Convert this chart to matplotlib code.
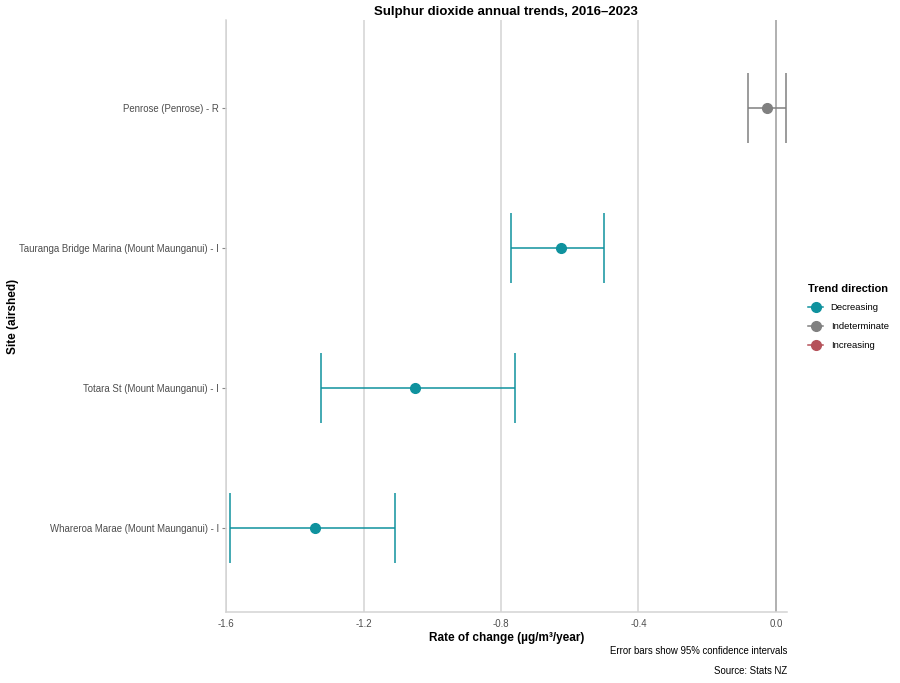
import matplotlib.pyplot as plt
from matplotlib.lines import Line2D

plt.rcParams['font.family'] = ['Liberation Sans', 'DejaVu Sans']

sites = ["Penrose (Penrose) - R",
         "Tauranga Bridge Marina (Mount Maunganui) - I",
         "Totara St (Mount Maunganui) - I",
         "Whareroa Marae (Mount Maunganui) - I"]
trend = [-0.026, -0.625, -1.050, -1.341]
lower = [-0.081, -0.771, -1.324, -1.588]
upper = [0.029, -0.500, -0.759, -1.108]
direction = ["Indeterminate", "Decreasing", "Decreasing", "Decreasing"]

colours = {"Decreasing": "#0F929E", "Indeterminate": "#808080", "Increasing": "#B5525A"}
xticks = [-1.6, -1.2, -0.8, -0.4, 0.0]

fig = plt.figure(figsize=(9, 6.83), dpi=100)
ax = fig.add_axes([226 / 900, 1 - 612 / 683, (787 - 226) / 900, (612 - 20) / 683])

for x in xticks:
    ax.axvline(x, color="#D3D3D3", lw=1.1, zorder=0)
ax.axvline(0, color="#A6A6A6", lw=1.1, zorder=1)

ypos = list(range(len(sites), 0, -1))
for y, m, lo, hi, d in zip(ypos, trend, lower, upper, direction):
    c = colours[d]
    ax.errorbar(m, y, xerr=[[m - lo], [hi - m]], fmt="none", ecolor=c,
                elinewidth=1.1, capsize=25, capthick=1.1, zorder=2)
    ax.plot(m, y, "o", color=c, ms=7, zorder=3)

ax.set_xlim(-1.6, 0.032)
ax.set_ylim(0.4, 4.63)
ax.set_xticks(xticks)
ax.set_xticklabels(["-1.6", "-1.2", "-0.8", "-0.4", "0.0"])
ax.set_yticks(ypos)
ax.set_yticklabels(sites)
ax.tick_params(axis="both", labelsize=6.9, labelcolor="#4D4D4D", color="#888888",
               length=3, width=0.8, pad=2)
ax.tick_params(axis="x", length=0, pad=5)
for s in ["top", "right"]:
    ax.spines[s].set_visible(False)
for s in ["left", "bottom"]:
    ax.spines[s].set_color("#D3D3D3")
    ax.spines[s].set_linewidth(1.1)

ax.set_xlabel("Rate of change (µg/m³/year)", fontsize=8.5, fontweight="bold", labelpad=2)
fig.text(13 / 900, 1 - 316 / 683, "Site (airshed)", rotation=90, ha="center",
         va="center", fontsize=8.5, fontweight="bold")
fig.text(506 / 900, 1 - 12 / 683, "Sulphur dioxide annual trends, 2016–2023",
         ha="center", va="center", fontsize=9.5, fontweight="bold")

handles = [Line2D([0], [0], color=colours[k], marker="o", ms=7, lw=1.1, label=k)
           for k in ["Decreasing", "Indeterminate", "Increasing"]]
leg = fig.legend(handles=handles, title="Trend direction", loc="upper left",
                 bbox_to_anchor=(799.5 / 900, 1 - 275 / 683), frameon=False,
                 fontsize=6.8, title_fontsize=7.9, handlelength=1.6,
                 handletextpad=0.8, labelspacing=1.05, alignment="left")
leg.get_title().set_fontweight("bold")

fig.text(787 / 900, 1 - 651 / 683, "Error bars show 95% confidence intervals",
         ha="right", va="center", fontsize=6.9)
fig.text(787 / 900, 1 - 671 / 683, "Source: Stats NZ",
         ha="right", va="center", fontsize=6.9)

fig.savefig("out.png", dpi=100)
